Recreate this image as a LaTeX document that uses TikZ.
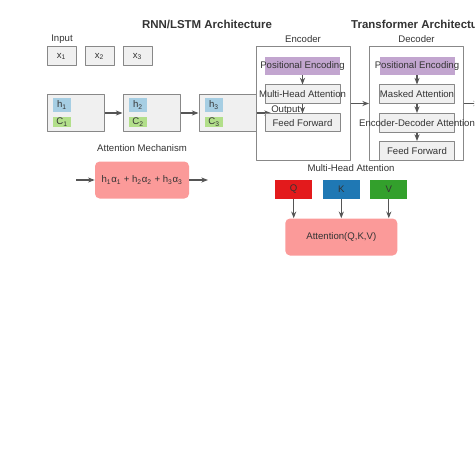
\documentclass[tikz,border=0pt]{standalone}
\usepackage{fontspec}
\setmainfont{Liberation Sans}
\usetikzlibrary{arrows.meta}
\definecolor{txt}{HTML}{333333}
\definecolor{edge}{HTML}{888888}
\definecolor{boxfill}{HTML}{F0F0F0}
\definecolor{arr}{HTML}{555555}
\definecolor{hblue}{HTML}{A6CEE3}
\definecolor{cgreen}{HTML}{B2DF8A}
\definecolor{pepurple}{HTML}{C2A5CF}
\definecolor{attpink}{HTML}{FB9A99}
\definecolor{qred}{HTML}{E31A1C}
\definecolor{kblue}{HTML}{1F78B4}
\definecolor{vgreen}{HTML}{33A02C}
\newcommand\spill[1]{\makebox[0pt]{#1}}
\begin{document}
\begin{tikzpicture}[x=0.75pt, y=-0.75pt, line join=round, >={Stealth[length=5pt,width=3.8pt]}]
	\tikzset{every node/.style={text=txt, inner sep=0pt, font=\fontsize{7.2}{8.5}\selectfont},
		title/.style={font=\fontsize{8.6}{10}\selectfont\bfseries},
		sz/.style 2 args={minimum width=#1*0.75pt, minimum height=#2*0.75pt},
		graybox/.style={draw=edge, fill=boxfill, line width=0.75pt},
		frame/.style={draw=edge, fill=white, line width=0.75pt, sz={94}{113}},
		layer/.style={graybox, sz={75}{19}},
		pe/.style={fill=pepurple, sz={75}{18}},
		qkv/.style={sz={37}{19}},
		attn/.style={fill=attpink, rounded corners=3.5pt},
		link/.style={->, draw=arr, line width=0.85pt}}
	\useasboundingbox (0,0) rectangle (474,474);
	\clip (0,0) rectangle (474,474);
	\node[title] (rnntitle) at (207,24) {RNN/LSTM Architecture};
	\node[title] (trftitle) at (420,24) {Transformer Architecture};
	\node (inlabel) at (62,39) {Input};
	\foreach \i/\x in {1/61.5,2/99.5,3/137.5}
		\node[graybox, sz={29}{19}] (x\i) at (\x,56.5) {x\textsubscript{\i}};
	\foreach \i/\x in {1/75.5,2/151.5,3/227.5}{
		\node[graybox, sz={57}{37}] (cell\i) at (\x,113) {};
		\node[fill=hblue, sz={18}{14}] (h\i) at (\x-13.5,105) {h\textsubscript{\i}};
		\node[fill=cgreen, sz={18}{10}] (c\i) at (\x-13.5,122) {C\textsubscript{\i}};
	}
	\draw[link] (cell1.east) -- (cell2.west);
	\draw[link] (cell2.east) -- (cell3.west);
	\node (enclabel) at (303,39) {Encoder};
	\node[frame] (enc) at (303,103.5) {};
	\coordinate (outtip) at (271,113);
	\draw[link] (cell3.east) -- (outtip);
	\node[anchor=west] (outlabel) at (271,110) {Output};
	\node[pe] (encpe) at (302.5,66) {\spill{Positional Encoding}};
	\node[layer] (encmha) at (302.5,94.5) {\spill{Multi-Head Attention}};
	\node[layer, sz={75}{18}] (encff) at (302.5,123) {\spill{Feed Forward}};
	\draw[link] (encpe) -- (encmha);
	\draw[link] (encmha) -- (encff);
	\node (declabel) at (416.5,39) {Decoder};
	\node[frame] (dec) at (416.5,103.5) {};
	\node[pe] (decpe) at (417,66) {\spill{Positional Encoding}};
	\node[layer] (decmask) at (417,94.5) {\spill{Masked Attention}};
	\node[layer] (decencdec) at (417,123) {\spill{Encoder-Decoder Attention}};
	\node[layer] (decff) at (417,151) {\spill{Feed Forward}};
	\draw[link] (decpe) -- (decmask);
	\draw[link] (decmask) -- (decencdec);
	\draw[link] (decencdec) -- (decff);
	\draw[link] (enc.east) -- (dec.west);
	\coordinate (decout) at (480,103.5);
	\draw[link] (dec.east) -- (decout);
	\node (attmechlabel) at (142,148) {Attention Mechanism};
	\node[attn, sz={94}{37}] (attmech) at (142,180) {h\textsubscript{1}α\textsubscript{1} + h\textsubscript{2}α\textsubscript{2} + h\textsubscript{3}α\textsubscript{3}};
	\coordinate (attin) at (76,180);
	\coordinate (attout) at (208,180);
	\draw[link] (attin) -- (attmech.west);
	\draw[link] (attmech.east) -- (attout);
	\node (mhalabel) at (351,168) {Multi-Head Attention};
	\node[qkv, fill=qred] (q) at (293.7,189.5) {Q};
	\node[qkv, fill=kblue] (k) at (341.3,189.5) {K};
	\node[qkv, fill=vgreen] (v) at (388.8,189.5) {V};
	\node[attn, sz={112}{37}] (attqkv) at (341.3,237) {Attention(Q,K,V)};
	\foreach \n in {q,k,v}
		\draw[link] (\n.south) -- (\n.south |- attqkv.north);
\end{tikzpicture}
\end{document}
